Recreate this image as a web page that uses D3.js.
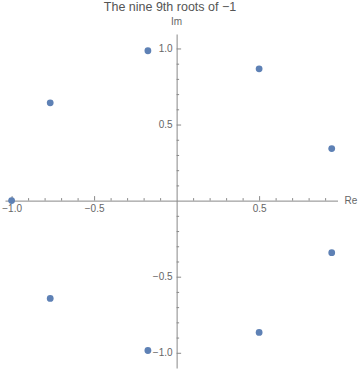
<!DOCTYPE html>
<html lang="en">
<head>
<meta charset="UTF-8">
<title>The nine 9th roots of -1</title>
<script src="https://d3js.org/d3.v7.min.js"></script>
<style>
    body { margin: 0; background: #fff; }
    svg text { font-family: "Liberation Sans", Arial, sans-serif; }
    .axis path, .axis line { stroke: #888; }
    .axis text { fill: #666; font-size: 10px; }
</style>
</head>
<body>
<svg id="chart" width="360" height="369"></svg>
<script>
const rePart = [0.940, 0.500, -0.174, -0.766, -1.000, -0.766, -0.174, 0.500, 0.940];
const imPart = [0.342, 0.866, 0.985, 0.643, 0.000, -0.643, -0.985, -0.866, -0.342];

const xMajor = [-1, -0.5, 0.5];
const yMajor = [-1, -0.5, 0.5, 1];
const xMinor = [-0.9, -0.8, -0.7, -0.6, -0.4, -0.3, -0.2, -0.1, 0.1, 0.2, 0.3, 0.4, 0.6, 0.7, 0.8, 0.9];
const yMinor = [-0.9, -0.8, -0.7, -0.6, -0.4, -0.3, -0.2, -0.1, 0.1, 0.2, 0.3, 0.4, 0.6, 0.7, 0.8, 0.9];

const svg = d3.select("#chart");

const x = d3.scaleLinear().domain([-1.04, 0.975]).range([5, 337.5]);
const y = d3.scaleLinear().domain([-1.1, 1.095]).range([368, 34]);

const fmt = d => d3.format(".1f")(d).replace("-", "\u2212");

// x axis (ticks point up, labels below)
const xAxis = svg.append("g")
    .attr("class", "axis")
    .attr("transform", `translate(0,${y(0)})`);
xAxis.append("g")
    .call(d3.axisBottom(x).tickValues(xMajor).tickFormat(fmt).tickSizeInner(-4.5).tickSizeOuter(0).tickPadding(4));
xAxis.append("g")
    .call(d3.axisBottom(x).tickValues(xMinor).tickFormat("").tickSizeInner(-2.5).tickSizeOuter(0))
    .select(".domain").remove();

// y axis (ticks point right, labels left)
const yAxis = svg.append("g")
    .attr("class", "axis")
    .attr("transform", `translate(${x(0)},0)`);
yAxis.append("g")
    .call(d3.axisLeft(y).tickValues(yMajor).tickFormat(fmt).tickSizeInner(-4.5).tickSizeOuter(0).tickPadding(4));
yAxis.append("g")
    .call(d3.axisLeft(y).tickValues(yMinor).tickFormat("").tickSizeInner(-2.5).tickSizeOuter(0))
    .select(".domain").remove();

svg.selectAll(".axis text").attr("font-family", null);

// axis names
svg.append("text")
    .attr("x", x.range()[1] + 7)
    .attr("y", y(0))
    .attr("dy", "0.35em")
    .attr("fill", "#666")
    .attr("font-size", 10)
    .text("Re");

svg.append("text")
    .attr("x", x(0))
    .attr("y", y.range()[1] - 9)
    .attr("text-anchor", "middle")
    .attr("fill", "#666")
    .attr("font-size", 10)
    .text("Im");

// title
svg.append("text")
    .attr("x", 170)
    .attr("y", 11)
    .attr("text-anchor", "middle")
    .attr("fill", "#555")
    .attr("font-size", 12.5)
    .text("The nine 9th roots of \u22121");

// points
svg.append("g")
    .selectAll("circle")
    .data(rePart.map((r, i) => [r, imPart[i]]))
    .join("circle")
    .attr("cx", d => x(d[0]))
    .attr("cy", d => y(d[1]))
    .attr("r", 3.4)
    .attr("fill", "#5e81b5");
</script>
</body>
</html>
